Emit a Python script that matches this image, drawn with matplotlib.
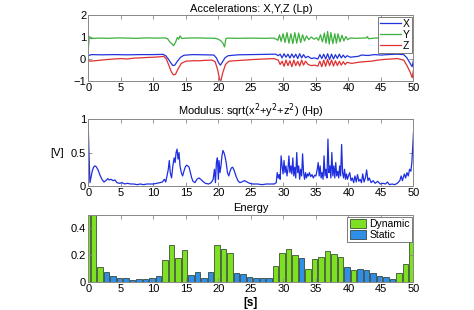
import numpy as np
import matplotlib
matplotlib.use('Agg')
import matplotlib.pyplot as plt
from matplotlib.patches import Patch

plt.rcParams['font.family'] = ['Liberation Sans', 'DejaVu Sans']
plt.rcParams['font.size'] = 8

# --- Accelerations (Lp) ---
y_t = [0, 0.15, 0.4, 1.5, 3, 4.5, 6, 7.5, 9, 10.5, 11.8, 12.2, 12.6, 12.9, 13.1, 13.4, 13.7, 13.9,
       14.1, 14.4, 15, 16.5, 18, 19.5, 20, 20.4, 20.7, 20.95, 21.15, 21.4, 23, 25, 27, 28.5, 28.9,
       29.15, 29.4, 29.65, 29.95, 30.25, 30.55, 30.85, 31.15, 31.45, 31.75, 32.05, 32.35, 32.65,
       32.95, 33.25, 33.55, 33.9, 34.3, 34.7, 35.1, 35.4, 35.7, 36.0, 36.3, 36.55, 36.8, 37.05,
       37.3, 37.6, 37.9, 38.15, 38.4, 38.7, 39.0, 39.3, 39.6, 39.9, 40.3, 41, 42, 42.8, 42.9, 43.1,
       44, 45.3, 45.4, 45.6, 47, 48, 49, 49.8, 50]
y_v = [0.45, 1.02, 0.93, 0.95, 0.94, 0.96, 0.95, 0.94, 0.96, 0.95, 0.96, 0.92, 0.75, 0.68, 0.6, 0.75,
       0.98, 0.9, 1.05, 0.93, 0.95, 0.96, 0.95, 0.94, 0.9, 0.82, 0.72, 0.55, 0.92, 0.95, 0.94, 0.95,
       0.94, 0.95, 0.9, 0.85, 1.1, 0.8, 1.15, 0.75, 1.2, 0.72, 1.15, 0.7, 1.2, 0.72, 1.18, 0.75,
       1.1, 0.82, 1.05, 0.88, 1.0, 0.9, 0.97, 0.85, 1.1, 0.78, 1.18, 0.72, 1.25, 0.68, 1.2, 0.7,
       1.15, 0.72, 1.15, 0.78, 1.08, 0.82, 1.02, 0.88, 0.96, 0.94, 0.95, 0.96, 1.02, 0.92, 0.95,
       0.96, 1.0, 0.93, 0.95, 0.95, 0.94, 0.95, 0.95]

x_t = [0, 0.5, 2, 4, 6, 8, 10, 11.5, 11.9, 12.3, 12.7, 13.0, 13.3, 13.7, 14.2, 14.7, 16, 18, 19.3,
       19.7, 20.0, 20.3, 20.6, 21.0, 21.5, 23, 25, 27, 28.8, 29.2, 29.5, 29.8, 30.1, 30.4, 30.7,
       31.0, 31.3, 31.6, 31.9, 32.2, 32.5, 32.8, 33.1, 33.4, 33.8, 34.3, 34.8, 35.3, 35.6, 35.9,
       36.2, 36.5, 36.8, 37.1, 37.4, 37.7, 38.0, 38.3, 38.6, 38.9, 39.2, 39.5, 39.8, 40.3, 40.8,
       41.5, 42, 43, 44, 45, 46, 47.5, 48.5, 49.0, 49.5, 49.8, 50]
x_v = [0.15, 0.2, 0.19, 0.2, 0.19, 0.2, 0.2, 0.21, 0.15, 0.0, -0.18, -0.3, -0.28, -0.1, 0.08, 0.17,
       0.2, 0.19, 0.18, 0.05, -0.15, -0.28, -0.15, 0.05, 0.15, 0.19, 0.2, 0.21, 0.22, 0.15, 0.22,
       0.05, 0.24, 0.08, 0.22, 0.04, 0.23, 0.06, 0.22, 0.02, 0.24, 0.05, 0.2, 0.06, 0.12, 0.02,
       0.05, 0.0, 0.2, 0.02, 0.22, 0.0, 0.24, -0.02, 0.22, 0.0, 0.2, 0.03, 0.22, 0.05, 0.18, 0.06,
       0.15, 0.08, 0.1, 0.12, 0.18, 0.16, 0.2, 0.18, 0.2, 0.22, 0.2, 0.05, -0.2, -0.35, -0.05]

z_t = [0, 0.3, 1, 2, 3, 4, 5, 6, 7, 8, 9, 10, 11, 11.6, 12.0, 12.4, 12.8, 13.1, 13.4, 13.8, 14.3,
       15, 16, 17, 18, 19, 19.5, 19.9, 20.2, 20.4, 20.7, 21.1, 21.6, 22.5, 24, 25.5, 27, 28.5,
       29.2, 29.5, 29.8, 30.1, 30.4, 30.7, 31.0, 31.3, 31.6, 31.9, 32.2, 32.5, 32.8, 33.1, 33.4,
       33.8, 34.3, 34.8, 35.3, 35.6, 35.9, 36.2, 36.5, 36.8, 37.1, 37.4, 37.7, 38.0, 38.3, 38.6,
       38.9, 39.2, 39.5, 39.8, 40.5, 41.5, 42.5, 43.5, 44.5, 45.5, 46.5, 47.5, 48.5, 49.0, 49.5,
       49.8, 50]
z_v = [-0.05, -0.1, -0.08, -0.05, -0.02, 0.0, 0.02, 0.0, 0.04, 0.05, 0.07, 0.08, 0.1, 0.12, 0.0,
       -0.3, -0.6, -0.72, -0.7, -0.45, -0.2, -0.1, -0.08, -0.08, -0.06, -0.05, -0.12, -0.5, -0.95,
       -0.97, -0.6, -0.25, -0.1, -0.08, -0.05, -0.02, 0.0, 0.02, -0.05, -0.25, -0.1, -0.33, -0.05,
       -0.3, -0.08, -0.35, -0.05, -0.3, -0.1, -0.32, -0.05, -0.28, -0.1, -0.25, -0.3, -0.28,
       -0.32, -0.1, -0.35, -0.05, -0.33, -0.02, -0.3, -0.05, -0.32, -0.08, -0.3, -0.1, -0.28,
       -0.12, -0.25, -0.15, -0.2, -0.15, -0.12, -0.1, -0.05, -0.02, 0.0, 0.02, -0.05, -0.3, -0.6,
       -0.85, -0.5]

# --- Modulus (Hp) ---
m_t = [0, 0.1, 0.25, 0.4, 0.6, 0.8, 1.0, 1.2, 1.5, 1.8, 2.1, 2.4, 2.7, 3.0, 3.2, 3.5, 3.8, 4.1,
       4.4, 4.8, 5.2, 5.6, 6.0, 6.5, 7, 7.5, 8, 8.5, 9, 9.5, 10, 10.5, 11, 11.4, 11.7, 11.9,
       12.1, 12.3, 12.45, 12.6, 12.8, 13.0, 13.2, 13.35, 13.5, 13.65, 13.8, 13.95, 14.1, 14.3,
       14.5, 14.7, 14.9, 15.1, 15.3, 15.5, 15.7, 15.9, 16.1, 16.4, 16.7, 17.0, 17.3, 17.6, 18.0,
       18.5, 18.9, 19.2, 19.4, 19.55, 19.7, 19.85, 20.0, 20.1, 20.25, 20.4, 20.55, 20.7, 20.85,
       21.0, 21.2, 21.4, 21.6, 21.8, 22.0, 22.2, 22.4, 22.7, 23.0, 23.3, 23.6, 24.0, 24.4, 24.8,
       25.3, 26, 26.7, 27.4, 28, 28.6, 28.9,
       29.05, 29.2, 29.35, 29.5, 29.65, 29.8, 29.95, 30.1, 30.25, 30.4, 30.55, 30.7, 30.85, 31.0,
       31.15, 31.3, 31.45, 31.6, 31.75, 31.9, 32.05, 32.2, 32.35, 32.5, 32.65, 32.8, 32.95, 33.1,
       33.25, 33.4, 33.55, 33.7, 33.85, 34.0, 34.2, 34.4, 34.6, 34.8, 35.0, 35.2, 35.35, 35.5,
       35.65, 35.8, 35.95, 36.1, 36.25, 36.4, 36.55, 36.7, 36.85, 37.0, 37.15, 37.3, 37.45, 37.6,
       37.75, 37.9, 38.05, 38.2, 38.35, 38.5, 38.65, 38.8, 38.95, 39.1, 39.25, 39.4, 39.55, 39.7,
       39.85, 40.0,
       40.2, 40.4, 40.6, 40.8, 41.0, 41.2, 41.4, 41.6, 41.8, 42.0, 42.2, 42.4, 42.6, 42.8, 43.0,
       43.2, 43.5, 43.8, 44.1, 44.5, 44.9, 45.3, 45.7, 46.0, 46.3, 46.7, 47.1, 47.5, 47.9, 48.1,
       48.3, 48.6, 48.8, 49.0, 49.2, 49.4, 49.6, 49.75, 49.9, 50.0]
m_v = [0.85, 0.5, 0.05, 0.12, 0.22, 0.28, 0.3, 0.29, 0.24, 0.16, 0.1, 0.06, 0.08, 0.11, 0.09, 0.1,
       0.08, 0.09, 0.05, 0.04, 0.05, 0.03, 0.04, 0.03, 0.03, 0.02, 0.03, 0.02, 0.03, 0.03, 0.03,
       0.04, 0.05, 0.06, 0.1, 0.06,
       0.15, 0.25, 0.38, 0.2, 0.12, 0.3, 0.42, 0.35, 0.5, 0.55, 0.4, 0.5, 0.3, 0.2, 0.15, 0.22,
       0.28, 0.31, 0.3, 0.28, 0.2, 0.12, 0.07, 0.05, 0.1, 0.12, 0.1, 0.07, 0.04, 0.03, 0.05, 0.1,
       0.25, 0.05, 0.35, 0.42, 0.1, 0.38, 0.2, 0.3, 0.45, 0.53, 0.5, 0.45, 0.35, 0.2, 0.15, 0.22,
       0.27, 0.28, 0.24, 0.15, 0.08, 0.05, 0.06, 0.08, 0.06, 0.04, 0.03, 0.03, 0.02, 0.03, 0.03,
       0.03, 0.05,
       0.2, 0.12, 0.17, 0.1, 0.45, 0.3, 0.18, 0.38, 0.2, 0.3, 0.15, 0.25, 0.45, 0.2, 0.3, 0.18,
       0.42, 0.15, 0.28, 0.12, 0.5, 0.2, 0.3, 0.1, 0.25, 0.15, 0.48, 0.2, 0.1, 0.2, 0.12, 0.18,
       0.15, 0.2, 0.14, 0.17, 0.12, 0.16, 0.15, 0.25, 0.35, 0.15, 0.3, 0.12, 0.2, 0.1, 0.45, 0.15,
       0.25, 0.12, 0.7, 0.2, 0.3, 0.12, 0.5, 0.15, 0.3, 0.12, 0.35, 0.15, 0.22, 0.12, 0.3, 0.15,
       0.62, 0.2, 0.12, 0.25, 0.1, 0.18, 0.1, 0.15,
       0.2, 0.08, 0.12, 0.05, 0.15, 0.06, 0.17, 0.07, 0.1, 0.05, 0.18, 0.06, 0.12, 0.24, 0.08,
       0.12, 0.05, 0.08, 0.04, 0.07, 0.03, 0.04, 0.03, 0.06, 0.02, 0.03, 0.02, 0.04, 0.08, 0.15,
       0.08, 0.18, 0.12, 0.2, 0.15, 0.25, 0.22, 0.35, 0.6, 0.8]

# --- Energy per second ---
energy = [0.5, 0.5, 0.116, 0.08, 0.047, 0.035, 0.03, 0.02, 0.027, 0.022, 0.03, 0.047, 0.163,
          0.28, 0.18, 0.24, 0.057, 0.08, 0.032, 0.074, 0.275, 0.25, 0.22, 0.067, 0.064, 0.037,
          0.03, 0.03, 0.03, 0.12, 0.215, 0.25, 0.2, 0.18, 0.1, 0.17, 0.19, 0.235, 0.207, 0.185,
          0.11, 0.09, 0.1, 0.09, 0.066, 0.05, 0.037, 0.025, 0.066, 0.135, 0.4]
state = list('DDDSSSSSSSSSDDDDSSSSDDDSSSSSSDDDDSDDDDDDSDSSSSSSDD')
state.append('D')
x_ticks = list(range(0, 51, 5))

col_dyn = '#7ee022'
col_sta = '#2f8fe6'


def matlab_axes(ax):
    ax.set_xlim(0, 50)
    ax.set_xticks(x_ticks)
    ax.tick_params(direction='in', top=True, right=True, length=3, width=0.6,
                   color='#888888', labelsize=8, pad=1.5)
    for s in ax.spines.values():
        s.set_color('#888888')
        s.set_linewidth(0.7)


fig = plt.figure(figsize=(4.74, 3.10), dpi=100)

ax1 = fig.add_axes([0.1863, 0.7387, 0.686, 0.2129])
ax1.plot(x_t, x_v, color='#2233dd', lw=0.9, label='X')
ax1.plot(y_t, y_v, color='#3cb03c', lw=0.9, label='Y')
ax1.plot(z_t, z_v, color='#e03030', lw=0.9, label='Z')
ax1.set_ylim(-1, 2)
ax1.set_yticks([-1, 0, 1, 2])
matlab_axes(ax1)
ax1.set_title('Accelerations: X,Y,Z (Lp)', fontsize=8, pad=2)
leg1 = ax1.legend(loc='upper right', fontsize=7.5, handlelength=2.0, handletextpad=0.2,
                  borderpad=0.2, labelspacing=0.1, fancybox=False, framealpha=1,
                  borderaxespad=0.15)
leg1.get_frame().set_edgecolor('#666666')
leg1.get_frame().set_linewidth(0.6)

ax2 = fig.add_axes([0.1863, 0.4, 0.686, 0.2161])
ax2.plot(m_t, m_v, color='#1f2fe0', lw=0.9)
ax2.set_ylim(0, 1)
ax2.set_yticks([0, 0.5, 1])
ax2.set_yticklabels(['0', '0.5', '1'])
matlab_axes(ax2)
ax2.set_title('Modulus: sqrt(x$^2$+y$^2$+z$^2$) (Hp)', fontsize=8, pad=3)
ax2.set_ylabel('[V]', rotation=0, fontsize=8, labelpad=10, va='center')

ax3 = fig.add_axes([0.1863, 0.0894, 0.686, 0.2171])
centers = np.arange(len(energy)) - 0.2
colors = [col_dyn if s == 'D' else col_sta for s in state]
ax3.bar(centers, energy, width=0.85, color=colors, edgecolor='#203020', linewidth=0.5)
ax3.set_ylim(0, 0.5)
ax3.set_yticks([0, 0.2, 0.4])
ax3.set_yticklabels(['0', '0.2', '0.4'])
matlab_axes(ax3)
ax3.set_title('Energy', fontsize=8, pad=3)
ax3.set_xlabel('[s]', fontsize=8.5, fontweight='bold', labelpad=2)
handles = [Patch(facecolor=col_dyn, edgecolor='#203020', lw=0.5, label='Dynamic'),
           Patch(facecolor=col_sta, edgecolor='#203020', lw=0.5, label='Static')]
leg3 = ax3.legend(handles=handles, loc='upper right', fontsize=7.5, handlelength=1.6,
                  handleheight=1.0, handletextpad=0.3, borderpad=0.2, labelspacing=0.1,
                  fancybox=False, framealpha=1, borderaxespad=0.15)
leg3.get_frame().set_edgecolor('#666666')
leg3.get_frame().set_linewidth(0.6)

fig.savefig('out.png', dpi=100)
